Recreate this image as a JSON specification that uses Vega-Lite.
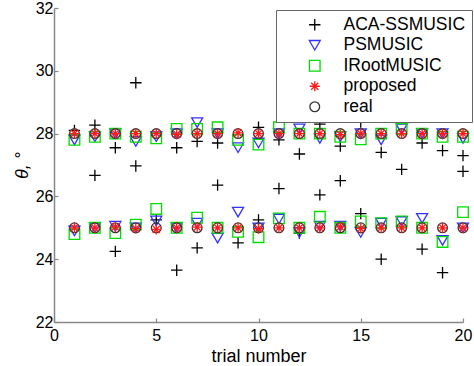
{
  "$schema": "https://vega.github.io/schema/vega-lite/v6.json",
  "width": 409,
  "height": 314,
  "autosize": {"type": "none"},
  "padding": {"left": 54, "top": 8, "right": 11, "bottom": 44},
  "config": {
    "view": {"stroke": null},
    "font": "Liberation Sans",
    "axis": {"grid": false, "domainColor": "#888888", "domainWidth": 1.5, "tickColor": "#888888", "tickWidth": 1.2, "labelColor": "#000000", "labelFontSize": 16, "titleFontSize": 18, "titleFontWeight": "normal", "titleColor": "#000000"}
  },
  "datasets": {
    "pts": [
      {"t":1,"v":28.1,"m":"ACA-SSMUSIC"},{"t":2,"v":28.27,"m":"ACA-SSMUSIC"},{"t":2,"v":26.67,"m":"ACA-SSMUSIC"},
      {"t":3,"v":27.55,"m":"ACA-SSMUSIC"},{"t":3,"v":24.25,"m":"ACA-SSMUSIC"},{"t":4,"v":29.62,"m":"ACA-SSMUSIC"},
      {"t":4,"v":26.97,"m":"ACA-SSMUSIC"},{"t":5,"v":25.25,"m":"ACA-SSMUSIC"},{"t":6,"v":27.55,"m":"ACA-SSMUSIC"},
      {"t":6,"v":23.65,"m":"ACA-SSMUSIC"},{"t":7,"v":27.75,"m":"ACA-SSMUSIC"},{"t":7,"v":24.36,"m":"ACA-SSMUSIC"},
      {"t":8,"v":27.7,"m":"ACA-SSMUSIC"},{"t":8,"v":26.36,"m":"ACA-SSMUSIC"},{"t":9,"v":24.52,"m":"ACA-SSMUSIC"},
      {"t":10,"v":28.2,"m":"ACA-SSMUSIC"},{"t":10,"v":25.25,"m":"ACA-SSMUSIC"},{"t":11,"v":27.8,"m":"ACA-SSMUSIC"},
      {"t":11,"v":26.25,"m":"ACA-SSMUSIC"},{"t":12,"v":27.35,"m":"ACA-SSMUSIC"},{"t":12,"v":24.83,"m":"ACA-SSMUSIC"},
      {"t":13,"v":28.3,"m":"ACA-SSMUSIC"},{"t":13,"v":26.05,"m":"ACA-SSMUSIC"},{"t":14,"v":27.6,"m":"ACA-SSMUSIC"},
      {"t":14,"v":26.5,"m":"ACA-SSMUSIC"},{"t":15,"v":28.37,"m":"ACA-SSMUSIC"},{"t":15,"v":25.45,"m":"ACA-SSMUSIC"},
      {"t":16,"v":27.4,"m":"ACA-SSMUSIC"},{"t":16,"v":24.0,"m":"ACA-SSMUSIC"},{"t":17,"v":26.86,"m":"ACA-SSMUSIC"},
      {"t":18,"v":27.7,"m":"ACA-SSMUSIC"},{"t":18,"v":24.32,"m":"ACA-SSMUSIC"},{"t":19,"v":27.46,"m":"ACA-SSMUSIC"},
      {"t":19,"v":23.57,"m":"ACA-SSMUSIC"},{"t":20,"v":27.3,"m":"ACA-SSMUSIC"},{"t":20,"v":26.8,"m":"ACA-SSMUSIC"},

      {"t":1,"v":27.8,"m":"PSMUSIC"},{"t":1,"v":24.9,"m":"PSMUSIC"},{"t":2,"v":27.9,"m":"PSMUSIC"},{"t":2,"v":25.0,"m":"PSMUSIC"},
      {"t":3,"v":28.0,"m":"PSMUSIC"},{"t":3,"v":25.05,"m":"PSMUSIC"},{"t":4,"v":27.75,"m":"PSMUSIC"},{"t":4,"v":25.0,"m":"PSMUSIC"},
      {"t":5,"v":27.9,"m":"PSMUSIC"},{"t":5,"v":25.22,"m":"PSMUSIC"},{"t":6,"v":28.0,"m":"PSMUSIC"},{"t":6,"v":25.0,"m":"PSMUSIC"},
      {"t":7,"v":28.35,"m":"PSMUSIC"},{"t":7,"v":25.15,"m":"PSMUSIC"},{"t":8,"v":28.0,"m":"PSMUSIC"},{"t":8,"v":24.67,"m":"PSMUSIC"},
      {"t":9,"v":27.55,"m":"PSMUSIC"},{"t":9,"v":25.5,"m":"PSMUSIC"},{"t":10,"v":27.7,"m":"PSMUSIC"},{"t":10,"v":25.0,"m":"PSMUSIC"},
      {"t":11,"v":28.0,"m":"PSMUSIC"},{"t":11,"v":25.28,"m":"PSMUSIC"},{"t":12,"v":28.15,"m":"PSMUSIC"},{"t":12,"v":24.85,"m":"PSMUSIC"},
      {"t":13,"v":27.85,"m":"PSMUSIC"},{"t":13,"v":25.05,"m":"PSMUSIC"},{"t":14,"v":27.9,"m":"PSMUSIC"},{"t":14,"v":25.05,"m":"PSMUSIC"},
      {"t":15,"v":28.0,"m":"PSMUSIC"},{"t":15,"v":24.85,"m":"PSMUSIC"},{"t":16,"v":27.8,"m":"PSMUSIC"},{"t":16,"v":25.15,"m":"PSMUSIC"},
      {"t":17,"v":28.15,"m":"PSMUSIC"},{"t":17,"v":25.2,"m":"PSMUSIC"},{"t":18,"v":28.0,"m":"PSMUSIC"},{"t":18,"v":25.3,"m":"PSMUSIC"},
      {"t":19,"v":28.0,"m":"PSMUSIC"},{"t":19,"v":24.6,"m":"PSMUSIC"},{"t":20,"v":27.85,"m":"PSMUSIC"},{"t":20,"v":25.0,"m":"PSMUSIC"},

      {"t":1,"v":27.8,"m":"IRootMUSIC"},{"t":1,"v":24.8,"m":"IRootMUSIC"},{"t":2,"v":27.9,"m":"IRootMUSIC"},{"t":2,"v":25.0,"m":"IRootMUSIC"},
      {"t":3,"v":28.0,"m":"IRootMUSIC"},{"t":3,"v":24.83,"m":"IRootMUSIC"},{"t":4,"v":27.9,"m":"IRootMUSIC"},{"t":4,"v":25.1,"m":"IRootMUSIC"},
      {"t":5,"v":27.85,"m":"IRootMUSIC"},{"t":5,"v":25.6,"m":"IRootMUSIC"},{"t":6,"v":28.15,"m":"IRootMUSIC"},{"t":6,"v":25.0,"m":"IRootMUSIC"},
      {"t":7,"v":28.15,"m":"IRootMUSIC"},{"t":7,"v":25.32,"m":"IRootMUSIC"},{"t":8,"v":28.2,"m":"IRootMUSIC"},{"t":8,"v":25.0,"m":"IRootMUSIC"},
      {"t":9,"v":27.8,"m":"IRootMUSIC"},{"t":9,"v":24.87,"m":"IRootMUSIC"},{"t":10,"v":27.65,"m":"IRootMUSIC"},{"t":10,"v":24.7,"m":"IRootMUSIC"},
      {"t":11,"v":28.2,"m":"IRootMUSIC"},{"t":11,"v":25.3,"m":"IRootMUSIC"},{"t":12,"v":28.0,"m":"IRootMUSIC"},{"t":12,"v":25.0,"m":"IRootMUSIC"},
      {"t":13,"v":28.0,"m":"IRootMUSIC"},{"t":13,"v":25.35,"m":"IRootMUSIC"},{"t":14,"v":27.9,"m":"IRootMUSIC"},{"t":14,"v":25.0,"m":"IRootMUSIC"},
      {"t":15,"v":27.82,"m":"IRootMUSIC"},{"t":15,"v":25.2,"m":"IRootMUSIC"},{"t":16,"v":28.0,"m":"IRootMUSIC"},{"t":16,"v":25.15,"m":"IRootMUSIC"},
      {"t":17,"v":28.15,"m":"IRootMUSIC"},{"t":17,"v":25.2,"m":"IRootMUSIC"},{"t":18,"v":28.0,"m":"IRootMUSIC"},{"t":18,"v":25.0,"m":"IRootMUSIC"},
      {"t":19,"v":27.9,"m":"IRootMUSIC"},{"t":19,"v":24.55,"m":"IRootMUSIC"},{"t":20,"v":27.9,"m":"IRootMUSIC"},{"t":20,"v":25.5,"m":"IRootMUSIC"},

      {"t":1,"v":28.0,"m":"real"},{"t":1,"v":25.0,"m":"real"},{"t":2,"v":28.0,"m":"real"},{"t":2,"v":25.0,"m":"real"},
      {"t":3,"v":28.0,"m":"real"},{"t":3,"v":25.0,"m":"real"},{"t":4,"v":28.0,"m":"real"},{"t":4,"v":25.0,"m":"real"},
      {"t":5,"v":28.0,"m":"real"},{"t":5,"v":25.0,"m":"real"},{"t":6,"v":28.0,"m":"real"},{"t":6,"v":25.0,"m":"real"},
      {"t":7,"v":28.0,"m":"real"},{"t":7,"v":25.0,"m":"real"},{"t":8,"v":28.0,"m":"real"},{"t":8,"v":25.0,"m":"real"},
      {"t":9,"v":28.0,"m":"real"},{"t":9,"v":25.0,"m":"real"},{"t":10,"v":28.0,"m":"real"},{"t":10,"v":25.0,"m":"real"},
      {"t":11,"v":28.0,"m":"real"},{"t":11,"v":25.0,"m":"real"},{"t":12,"v":28.0,"m":"real"},{"t":12,"v":25.0,"m":"real"},
      {"t":13,"v":28.0,"m":"real"},{"t":13,"v":25.0,"m":"real"},{"t":14,"v":28.0,"m":"real"},{"t":14,"v":25.0,"m":"real"},
      {"t":15,"v":28.0,"m":"real"},{"t":15,"v":25.0,"m":"real"},{"t":16,"v":28.0,"m":"real"},{"t":16,"v":25.0,"m":"real"},
      {"t":17,"v":28.0,"m":"real"},{"t":17,"v":25.0,"m":"real"},{"t":18,"v":28.0,"m":"real"},{"t":18,"v":25.0,"m":"real"},
      {"t":19,"v":28.0,"m":"real"},{"t":19,"v":25.0,"m":"real"},{"t":20,"v":28.0,"m":"real"},{"t":20,"v":25.0,"m":"real"},

      {"t":1,"v":28.0,"m":"proposed"},{"t":1,"v":25.0,"m":"proposed"},{"t":2,"v":28.0,"m":"proposed"},{"t":2,"v":25.0,"m":"proposed"},
      {"t":3,"v":28.0,"m":"proposed"},{"t":3,"v":25.03,"m":"proposed"},{"t":4,"v":28.0,"m":"proposed"},{"t":4,"v":24.98,"m":"proposed"},
      {"t":5,"v":28.0,"m":"proposed"},{"t":5,"v":24.95,"m":"proposed"},{"t":6,"v":27.98,"m":"proposed"},{"t":6,"v":25.0,"m":"proposed"},
      {"t":7,"v":28.0,"m":"proposed"},{"t":7,"v":25.02,"m":"proposed"},{"t":8,"v":28.0,"m":"proposed"},{"t":8,"v":25.0,"m":"proposed"},
      {"t":9,"v":28.02,"m":"proposed"},{"t":9,"v":25.0,"m":"proposed"},{"t":10,"v":28.0,"m":"proposed"},{"t":10,"v":24.97,"m":"proposed"},
      {"t":11,"v":28.0,"m":"proposed"},{"t":11,"v":25.0,"m":"proposed"},{"t":12,"v":28.0,"m":"proposed"},{"t":12,"v":25.0,"m":"proposed"},
      {"t":13,"v":28.0,"m":"proposed"},{"t":13,"v":25.0,"m":"proposed"},{"t":14,"v":27.97,"m":"proposed"},{"t":14,"v":25.03,"m":"proposed"},
      {"t":15,"v":28.0,"m":"proposed"},{"t":15,"v":24.98,"m":"proposed"},{"t":16,"v":28.0,"m":"proposed"},{"t":16,"v":25.0,"m":"proposed"},
      {"t":17,"v":28.0,"m":"proposed"},{"t":17,"v":25.0,"m":"proposed"},{"t":18,"v":28.0,"m":"proposed"},{"t":18,"v":25.0,"m":"proposed"},
      {"t":19,"v":28.0,"m":"proposed"},{"t":19,"v":25.0,"m":"proposed"},{"t":20,"v":28.0,"m":"proposed"},{"t":20,"v":25.0,"m":"proposed"}
    ]
  },
  "data": {"name": "pts"},
  "mark": {"type": "point", "filled": false, "strokeWidth": 1.3, "opacity": 1},
  "encoding": {
    "x": {"field": "t", "type": "quantitative", "title": "trial number",
      "scale": {"domain": [0, 20], "nice": false, "zero": false},
      "axis": {"values": [0, 5, 10, 15, 20], "tickSize": -4, "labelPadding": 9, "titlePadding": 4, "labelFlush": false}},
    "y": {"field": "v", "type": "quantitative", "title": "θ, °",
      "scale": {"domain": [22, 32], "nice": false, "zero": false},
      "axis": {"values": [22, 24, 26, 28, 30, 32], "tickSize": -4, "labelPadding": 5, "titlePadding": 4, "labelFlush": false, "titleFontStyle": "italic"}},
    "color": {"field": "m", "type": "nominal",
      "scale": {"domain": ["ACA-SSMUSIC", "PSMUSIC", "IRootMUSIC", "proposed", "real"],
        "range": ["#000000", "#3333ff", "#00dd00", "#ff1a1a", "#333333"]},
      "legend": {"orient": "none", "legendX": 222, "legendY": 2, "title": null,
        "labelFontSize": 17.5, "labelColor": "#000000", "symbolOffset": 24, "labelOffset": 20,
        "padding": 6, "rowPadding": 1.5, "strokeColor": "#666666", "fillColor": "#ffffff",
        "symbolStrokeWidth": 1.3, "labelLimit": 250}},
    "shape": {"field": "m", "type": "nominal",
      "scale": {"domain": ["ACA-SSMUSIC", "PSMUSIC", "IRootMUSIC", "proposed", "real"],
        "range": ["M-1,0L1,0M0,-1L0,1", "triangle-down", "square", "M-1,0L1,0M0,-1L0,1M-0.7,-0.7L0.7,0.7M-0.7,0.7L0.7,-0.7", "circle"]}},
    "size": {"field": "m", "type": "nominal",
      "scale": {"domain": ["ACA-SSMUSIC", "PSMUSIC", "IRootMUSIC", "proposed", "real"],
        "range": [130, 95, 52, 90, 85]}}
  }
}
